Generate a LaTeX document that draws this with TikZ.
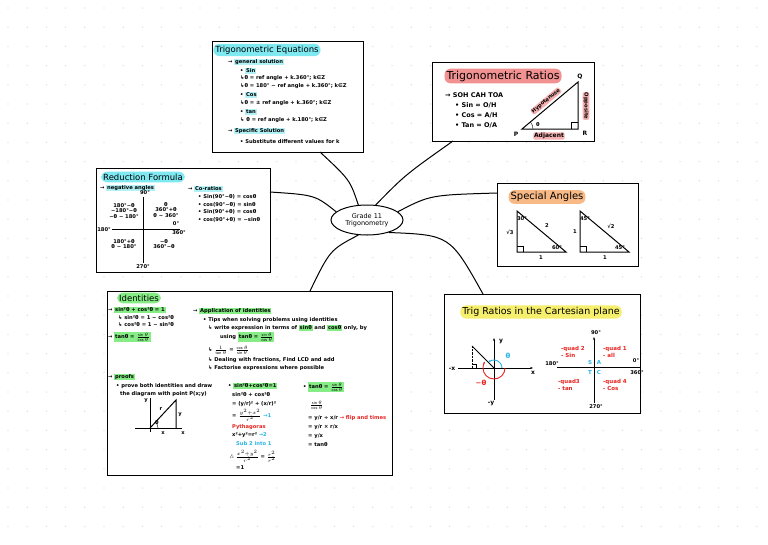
\documentclass[tikz,border=0pt]{standalone}
\usepackage{fontspec}
\setmainfont{DejaVu Sans}
\usetikzlibrary{arrows.meta,shapes.geometric}
\definecolor{hcyan}{HTML}{7FE9F2}
\definecolor{hgreen}{HTML}{86EC86}
\definecolor{hpink}{HTML}{F29191}
\definecolor{horange}{HTML}{F7B985}
\definecolor{hyellow}{HTML}{F6EF6E}
\definecolor{tred}{HTML}{E8231E}
\definecolor{tcyan}{HTML}{2BB5E6}
\setlength{\fboxsep}{0.8pt}
\begin{document}
\begin{tikzpicture}[x=1pt,y=-1pt,
  box/.style={draw=black,line width=1.3pt,fill=white},
  tx/.style={anchor=west,inner sep=0pt,font=\fontsize{5.2}{5.8}\selectfont\bfseries},
  tc/.style={inner sep=0pt,font=\fontsize{5.2}{5.8}\selectfont\bfseries},
  head/.style={inner sep=2pt,rounded corners=6pt,font=\fontsize{8.5}{9}\selectfont},
  conn/.style={line width=1pt},
  ax/.style={line width=1pt}]
\useasboundingbox (0,0) rectangle (768,544);
\fill[white] (0,0) rectangle (768,544);
\foreach \i in {0,...,40}{\foreach \j in {0,...,28}{\fill[black!18] (8+19.2*\i,8+19.2*\j) circle (0.6);}}
% boxes
\node[box,minimum width=151,minimum height=111,anchor=north west] (eq) at (212,41) {};
\node[box,minimum width=174,minimum height=104,anchor=north west] (red) at (96,168) {};
\node[box,minimum width=285,minimum height=184,anchor=north west] (id) at (107,291) {};
\node[box,minimum width=162,minimum height=79,anchor=north west] (rat) at (432,62) {};
\node[box,minimum width=141,minimum height=83,anchor=north west] (spa) at (497,183) {};
\node[box,minimum width=196,minimum height=119,anchor=north west] (car) at (444,294) {};
\node[draw,line width=1pt,ellipse,minimum width=72,minimum height=30,fill=white,align=center,font=\fontsize{6.5}{7.5}\selectfont,inner sep=0] (c) at (367,220) {Grade 11\\Trigonometry};
% connectors
\draw[conn] (c.120) .. controls (350,180) .. (320,152);
\draw[conn] (c.60) .. controls (405,175) .. (453,141);
\draw[conn] (c.165) .. controls (315,195) .. (270,192);
\draw[conn] (c.15) .. controls (430,195) .. (497,193);
\draw[conn] (c.240) .. controls (330,250) .. (310,291);
\draw[conn] (c.330) .. controls (450,235) .. (483,294);
% ---- Trig equations
\node[head,fill=hcyan] (eqh) at (267,50) {Trigonometric Equations};
\node[tx] at (228,62) {→ \colorbox{hcyan!60}{general solution}};
\node[tx] at (240,71) {• \colorbox{hcyan!60}{Sin}};
\node[tx] at (240,78) {↳θ = ref angle + k.360°; k∈Z};
\node[tx] at (240,86) {↳θ = 180° − ref angle + k.360°; k∈Z};
\node[tx] at (240,95) {• \colorbox{hcyan!60}{Cos}};
\node[tx] at (240,103) {↳θ = ± ref angle + k.360°; k∈Z};
\node[tx] at (240,112) {• \colorbox{hcyan!60}{tan}};
\node[tx] at (240,120) {↳ θ = ref angle + k.180°; k∈Z};
\node[tx] at (228,131) {→ \colorbox{hcyan!60}{Specific Solution}};
\node[tx] at (240,142) {• Substitute different values for k};
% ---- Reduction
\node[head,fill=hcyan] (redh) at (143,177) {Reduction Formula};
\node[tx] at (100,188) {→ \colorbox{hcyan!60}{negative angles}};
\node[tx] at (188,189) {→ \colorbox{hcyan!60}{Co-ratios}};
\node[tx] at (198,197) {• Sin(90°−θ) = cosθ};
\node[tx] at (198,205) {• cos(90°−θ) = sinθ};
\node[tx] at (198,212) {• Sin(90°+θ) = cosθ};
\node[tx] at (198,220) {• cos(90°+θ) = −sinθ};
\draw[ax] (143,197) -- (143,263);
\draw[ax] (112,229) -- (180,229);
\node[tc] at (145,193) {90°};
\node[tc] at (104,230) {180°};
\node[tc] at (176,224) {0°};
\node[tc] at (179,233) {360°};
\node[tc] at (143,267) {270°};
\node[tc,align=center] at (124,211) {180°−θ\\−180°−θ\\−θ − 180°};
\node[tc,align=center] at (166,210) {θ\\360°+θ\\θ − 360°};
\node[tc,align=center] at (124,244) {180°+θ\\θ − 180°};
\node[tc,align=center] at (164,244) {−θ\\360°−θ};
% ---- Identities
\node[head,fill=hgreen] (idh) at (139,298) {Identities};
\node[tx] at (108,310) {→ \colorbox{hgreen}{sin²θ + cos²θ = 1}};
\node[tx] at (118,318) {↳ sin²θ = 1 − cos²θ};
\node[tx] at (118,325) {↳ cos²θ = 1 − sin²θ};
\node[tx] at (108,337) {→ \colorbox{hgreen}{tanθ = $\frac{\sin\theta}{\cos\theta}$}};
\node[tx] at (193,311) {→ \colorbox{hgreen}{Application of identities}};
\node[tx] at (203,320) {• Tips when solving problems using identities};
\node[tx] at (208,328) {↳ write expression in terms of \colorbox{hgreen}{sinθ} and \colorbox{hgreen}{cosθ} only, by};
\node[tx] at (220,337) {using \colorbox{hgreen}{tanθ = $\frac{\sin\theta}{\cos\theta}$}};
\node[tx] at (208,350) {↳ $\frac{1}{\tan\theta}$ = $\frac{\cos\theta}{\sin\theta}$};
\node[tx] at (208,360) {↳ Dealing with fractions, Find LCD and add};
\node[tx] at (208,368) {↳ Factorise expressions where possible};
\node[tx] at (108,377) {→ \colorbox{hgreen}{proofs}};
\node[tx] at (116,386) {• prove both identities and draw};
\node[tx] at (120,394) {the diagram with point P(x;y)};
\draw[ax] (135,428) -- (182,428);
\draw[ax] (150,398) -- (150,432);
\draw[ax] (150,428) -- (176,400) -- (176,428);
\draw (158,428) arc (0:-47:8);
\node[tc] at (146,401) {y};
\node[tc] at (161,409) {r};
\node[tc] at (180,415) {y};
\node[tc] at (157,423) {θ};
\node[tc] at (163,433) {x};
\node[tc] at (183,433) {x};
\node[tx] at (228,386) {• \colorbox{hgreen}{sin²θ+cos²θ=1}};
\node[tx] at (232,395) {sin²θ + cos²θ};
\node[tx] at (232,404) {= (y/r)² + (x/r)²};
\node[tx] at (232,415) {= $\frac{y^2+x^2}{r^2}$ \textcolor{tcyan}{→1}};
\node[tx] at (232,427) {\textcolor{tred}{Pythagoras}};
\node[tx] at (232,435) {x²+y²=r² \textcolor{tcyan}{→2}};
\node[tx] at (236,444) {\textcolor{tcyan}{Sub 2 into 1}};
\node[tx] at (230,456) {∴ $\frac{x^2+y^2}{r^2}$ = $\frac{r^2}{r^2}$};
\node[tx] at (236,468) {=1};
\node[tx] at (303,387) {• \colorbox{hgreen}{tanθ = $\frac{\sin\theta}{\cos\theta}$}};
\node[tx] at (310,405) {$\frac{\sin\theta}{\cos\theta}$};
\node[tx] at (308,418) {= y/r ÷ x/r \textcolor{tred}{→ flip and times}};
\node[tx] at (308,427) {= y/r × r/x};
\node[tx] at (308,436) {= y/x};
\node[tx] at (308,445) {= tanθ};
% ---- Trig ratios
\node[head,fill=hpink,font=\fontsize{11}{12}\selectfont] (rath) at (503,76) {Trigonometric Ratios};
\node[tx,font=\fontsize{6.5}{7}\selectfont\bfseries] at (445,95) {→ SOH CAH TOA};
\node[tx,font=\fontsize{6.5}{7}\selectfont\bfseries] at (455,105) {• Sin = O/H};
\node[tx,font=\fontsize{6.5}{7}\selectfont\bfseries] at (455,115) {• Cos = A/H};
\node[tx,font=\fontsize{6.5}{7}\selectfont\bfseries] at (455,125) {• Tan = O/A};
\coordinate (P) at (522,129); \coordinate (R) at (578,129); \coordinate (Q) at (578,82);
\draw[line width=1pt] (P) -- (R) -- (Q) -- cycle;
\draw (R) ++(-7,0) -- ++(0,-7) -- ++(7,0);
\draw (533,129) arc (0:-40:11);
\node[tc] at (538,125) {θ};
\node[tc,font=\fontsize{6}{7}\selectfont\bfseries] at (516,134) {P};
\node[tc,font=\fontsize{6}{7}\selectfont\bfseries] at (585,133) {R};
\node[tc,font=\fontsize{6}{7}\selectfont\bfseries] at (580,77) {Q};
\node[tc,rotate=40,fill=hpink!70,rounded corners=2pt,inner sep=0.8pt] at (546,101) {Hypotenuse};
\node[tc,rotate=-90,fill=hpink!70,rounded corners=2pt,inner sep=0.8pt] at (586,106) {Opposite};
\node[tc,fill=hpink!70,rounded corners=2pt,inner sep=0.8pt,font=\fontsize{6}{7}\selectfont\bfseries] at (549,136) {Adjacent};
% ---- Special angles
\node[head,fill=horange,font=\fontsize{10}{11}\selectfont] (spah) at (547,197) {Special Angles};
\draw[line width=1pt] (517,211) -- (517,252) -- (566,252) -- cycle;
\draw (517,246) -- (523,246) -- (523,252);
\node[tc] at (522,219) {30°};
\node[tc] at (510,232) {√3};
\node[tc] at (547,226) {2};
\node[tc] at (557,248) {60°};
\node[tc] at (541,258) {1};
\draw[line width=1pt] (580,211) -- (580,252) -- (629,252) -- cycle;
\draw (580,246) -- (586,246) -- (586,252);
\node[tc] at (585,219) {45°};
\node[tc] at (575,232) {1};
\node[tc] at (611,226) {√2};
\node[tc] at (620,248) {45°};
\node[tc] at (605,258) {1};
% ---- Cartesian
\node[head,fill=hyellow,font=\fontsize{9.5}{10}\selectfont] (carh) at (541,312) {Trig Ratios in the Cartesian plane};
\draw[ax,-{Stealth[length=3pt]}] (494,400) -- (494,338);
\draw[ax,-{Stealth[length=3pt]}] (458,368) -- (533,368);
\draw[ax] (494,368) -- (472,346);
\draw[densely dotted] (472,346) -- (472,368);
\draw (472,364) -- (476,364) -- (476,368);
\draw[tcyan,line width=0.9pt,-{Stealth[length=2.5pt]}] (502,368) arc (0:-135:8);
\draw[tred,line width=0.9pt,-{Stealth[length=2.5pt]}] (505,368) arc (0:215:11);
\node[tc,text=tcyan,font=\fontsize{7}{8}\selectfont\bfseries] at (508,356) {θ};
\node[tc,text=tred,font=\fontsize{7}{8}\selectfont\bfseries] at (481,383) {−θ};
\node[tc,font=\fontsize{6}{7}\selectfont\bfseries] at (452,369) {-x};
\node[tc,font=\fontsize{6}{7}\selectfont\bfseries] at (533,373) {x};
\node[tc,font=\fontsize{6}{7}\selectfont\bfseries] at (501,341) {y};
\node[tc,font=\fontsize{6}{7}\selectfont\bfseries] at (491,403) {-y};
\draw[ax,-{Stealth[length=3pt]}] (594,403) -- (594,337);
\draw[ax] (557,367) -- (641,367);
\node[tc] at (596,333) {90°};
\node[tc] at (552,364) {180°};
\node[tc] at (636,361) {0°};
\node[tc] at (637,373) {360°};
\node[tc] at (596,407) {270°};
\node[tx,text=tred,align=left,font=\fontsize{5.5}{7}\selectfont\bfseries] at (561,352) {-quad 2\\ - Sin};
\node[tx,text=tred,align=left,font=\fontsize{5.5}{7}\selectfont\bfseries] at (603,352) {-quad 1\\ - all};
\node[tx,text=tred,align=left,font=\fontsize{5.5}{7}\selectfont\bfseries] at (558,385) {-quad3\\ - tan};
\node[tx,text=tred,align=left,font=\fontsize{5.5}{7}\selectfont\bfseries] at (603,385) {-quad 4\\ - Cos};
\node[tc,text=tcyan,font=\fontsize{5.5}{6}\selectfont\bfseries] at (590,362) {S};
\node[tc,text=tcyan,font=\fontsize{5.5}{6}\selectfont\bfseries] at (599,362) {A};
\node[tc,text=tcyan,font=\fontsize{5.5}{6}\selectfont\bfseries] at (590,372) {T};
\node[tc,text=tcyan,font=\fontsize{5.5}{6}\selectfont\bfseries] at (599,372) {C};
\end{tikzpicture}
\end{document}
